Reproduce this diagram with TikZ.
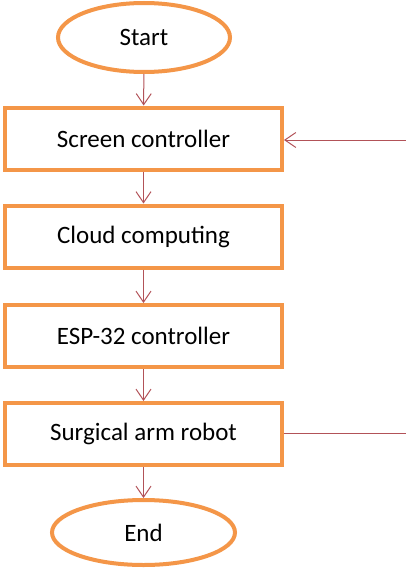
\documentclass[tikz,border=0pt]{standalone}
\usepackage{fontspec}
\setmainfont{Carlito}
\usepackage{tikz}
\usetikzlibrary{shapes,arrows.meta,positioning}
\definecolor{boxorange}{RGB}{244,150,72}
\definecolor{linkred}{RGB}{178,82,88}
\tikzset{
  stepbox/.style={draw=boxorange, line width=4pt, fill=white, rectangle,
    minimum width=277pt, minimum height=62pt, inner sep=0pt,
    font=\fontsize{25}{28}\selectfont},
  termnode/.style={draw=boxorange, line width=4pt, fill=white, ellipse,
    inner sep=0pt, font=\fontsize{25}{28}\selectfont},
  link/.style={draw=linkred, line width=1pt, -{Straight Barb[length=11pt,width=15pt]}},
}

\begin{document}
\begin{tikzpicture}[x=1pt,y=-1pt]
    %\draw[help lines] (0,0) grid (406,570);
    \useasboundingbox (0,0) rectangle (406,570);
    \node[termnode, minimum width=172pt, minimum height=69pt] (start) at (144,37.5) {Start};
    \node[stepbox] (screen) at (143.5,138.5) {Screen controller};
    \node[stepbox] (cloud) at (143.5,236.5) {Cloud computing};
    \node[stepbox] (esp) at (143.5,336) {ESP-32 controller};
    \node[stepbox] (robot) at (143.5,434) {Surgical arm robot};
    \node[termnode, minimum width=183pt, minimum height=65pt] (end) at (143.5,532.5) {End};
    \coordinate (fbin) at (406,140);
    \coordinate (fbout) at (406,433);
    \draw[link] (start) -- (screen);
    \draw[link] (screen) -- (cloud);
    \draw[link] (cloud) -- (esp);
    \draw[link] (esp) -- (robot);
    \draw[link] (robot) -- (end);
    \draw[link] (fbin) -- (fbin -| screen.east);
    \draw[draw=linkred, line width=1pt] (robot.east |- fbout) -- (fbout);
\end{tikzpicture}
\end{document}
